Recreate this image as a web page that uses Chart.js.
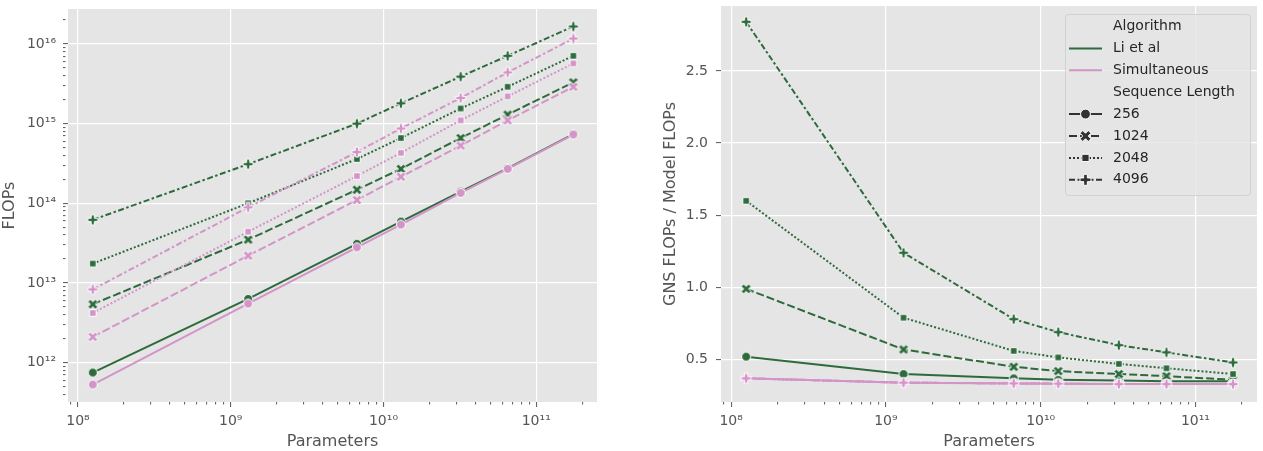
<!DOCTYPE html>
<html>
<head>
<meta charset="utf-8">
<script src="https://cdn.jsdelivr.net/npm/chart.js@4.4.1/dist/chart.umd.min.js"></script>
<style>
  html, body { margin:0; padding:0; background:#fff; overflow:hidden; }
  #wrapL { position:absolute; left:0; top:0; }
  #wrapR { position:absolute; left:625px; top:0; }
</style>
</head>
<body>
<div id="wrapL"><canvas id="flopsChart" width="625" height="451"></canvas></div>
<div id="wrapR"><canvas id="ratioChart" width="638" height="451"></canvas></div>
<script>
// ─── DATA ───
const params      = [1.25e8, 1.3e9, 6.7e9, 1.3e10, 3.2e10, 6.5e10, 1.75e11];
const algorithms  = ['Li et al', 'Simultaneous'];
const seqLengths  = ['256', '1024', '2048', '4096'];

// total FLOPs (left panel)
const flopsLi256   = [7.5e11, 6.3e12, 3.1e13, 5.9e13, 1.4e14, 2.75e14, 7.4e14];
const flopsLi1024  = [5.4e12, 3.5e13, 1.48e14, 2.7e14, 6.6e14, 1.3e15, 3.3e15];
const flopsLi2048  = [1.75e13, 1.0e14, 3.6e14, 6.6e14, 1.55e15, 2.9e15, 7.1e15];
const flopsLi4096  = [6.2e13, 3.1e14, 1.0e15, 1.8e15, 3.9e15, 7.1e15, 1.66e16];
const flopsSim256  = [5.3e11, 5.5e12, 2.8e13, 5.4e13, 1.35e14, 2.7e14, 7.3e14];
const flopsSim1024 = [2.1e12, 2.2e13, 1.1e14, 2.15e14, 5.3e14, 1.1e15, 2.9e15];
const flopsSim2048 = [4.2e12, 4.4e13, 2.2e14, 4.3e14, 1.1e15, 2.2e15, 5.7e15];
const flopsSim4096 = [8.3e12, 8.9e13, 4.4e14, 8.7e14, 2.1e15, 4.4e15, 1.17e16];

// GNS FLOPs / Model FLOPs (right panel)
const ratioLi256   = [0.52, 0.40, 0.37, 0.36, 0.355, 0.35, 0.35];
const ratioLi1024  = [0.99, 0.57, 0.45, 0.42, 0.40, 0.385, 0.36];
const ratioLi2048  = [1.60, 0.79, 0.56, 0.515, 0.47, 0.44, 0.40];
const ratioLi4096  = [2.84, 1.24, 0.78, 0.69, 0.60, 0.55, 0.48];
const ratioSim256  = [0.37, 0.34, 0.335, 0.333, 0.33, 0.33, 0.33];
const ratioSim1024 = [0.37, 0.34, 0.335, 0.333, 0.33, 0.33, 0.33];
const ratioSim2048 = [0.37, 0.34, 0.335, 0.333, 0.33, 0.33, 0.33];
const ratioSim4096 = [0.37, 0.34, 0.335, 0.333, 0.33, 0.33, 0.33];

// tick labels
const xTickValues     = [1e8, 1e9, 1e10, 1e11];
const xTickLabels     = ['10⁸', '10⁹', '10¹⁰', '10¹¹'];
const flopsTickValues = [1e12, 1e13, 1e14, 1e15, 1e16];
const flopsTickLabels = ['10¹²', '10¹³', '10¹⁴', '10¹⁵', '10¹⁶'];
const ratioTickValues = [0.5, 1.0, 1.5, 2.0, 2.5];

// ─── STYLE ───
const GREEN = '#2d6b3c';
const PINK  = '#d394c8';
const FONT  = 'DejaVu Sans';
const DASHES  = { '256': [], '1024': [8, 3], '2048': [2, 2], '4096': [6, 2.5, 2.5, 2.5] };
const MARKERS = { '256': 'o', '1024': 'X', '2048': 's', '4096': 'P' };

function markerPath(ctx, shape, x, y, r) {
  ctx.beginPath();
  if (shape === 'o') {
    ctx.arc(x, y, r * 0.9, 0, Math.PI * 2);
  } else if (shape === 's') {
    const h = r * 0.66;
    ctx.rect(x - h, y - h, 2 * h, 2 * h);
  } else {
    const pts = shape === 'X'
      ? [[-1,-2],[0,-1],[1,-2],[2,-1],[1,0],[2,1],[1,2],[0,1],[-1,2],[-2,1],[-1,0],[-2,-1]].map(p => [p[0]/2, p[1]/2])
      : [[-1,-3],[1,-3],[1,-1],[3,-1],[3,1],[1,1],[1,3],[-1,3],[-1,1],[-3,1],[-3,-1],[-1,-1]].map(p => [p[0]/3, p[1]/3]);
    pts.forEach((p, i) => i ? ctx.lineTo(x + p[0]*r, y + p[1]*r) : ctx.moveTo(x + p[0]*r, y + p[1]*r));
  }
  ctx.closePath();
}

function drawMarker(ctx, shape, x, y, r, fill) {
  markerPath(ctx, shape, x, y, r);
  ctx.fillStyle = fill;
  ctx.fill();
  ctx.strokeStyle = '#fff';
  ctx.lineWidth = 1;
  ctx.stroke();
}

function markerCanvas(shape, color) {
  const c = document.createElement('canvas');
  c.width = 14; c.height = 14;
  drawMarker(c.getContext('2d'), shape, 7, 7, 5, color);
  return c;
}

function makeDatasets(series) {
  const out = [];
  algorithms.forEach((alg, a) => seqLengths.forEach((len, s) => {
    const color = a === 0 ? GREEN : PINK;
    out.push({
      label: alg + ' ' + len,
      data: params.map((p, i) => ({ x: p, y: series[a][s][i] })),
      borderColor: color,
      backgroundColor: color,
      borderWidth: 2,
      borderDash: DASHES[len],
      pointStyle: markerCanvas(MARKERS[len], color),
      pointRadius: 4,
      pointHoverRadius: 4,
      tension: 0,
      order: 100 - out.length
    });
  }));
  return out;
}

// log axes: major tick each decade, minor ticks at 2..9
function logTicks(scale) {
  const ticks = [];
  const lo = Math.floor(Math.log10(scale.min)), hi = Math.ceil(Math.log10(scale.max));
  for (let e = lo; e <= hi; e++) {
    for (let m = 1; m <= 9; m++) {
      const v = m * Math.pow(10, e);
      if (v >= scale.min && v <= scale.max) ticks.push({ value: v, major: m === 1 });
    }
  }
  scale.ticks = ticks;
}

function labelFrom(values, labels) {
  return (v, i, ticks) => {
    if (!ticks[i].major) return '';
    const k = values.findIndex(t => Math.abs(Math.log10(t) - Math.log10(v)) < 1e-6);
    return k >= 0 ? labels[k] : '';
  };
}

const gridOpts = {
  color: c => (c.tick && c.tick.major) ? '#ffffff' : 'rgba(0,0,0,0)',
  lineWidth: 1.2,
  tickColor: '#555',
  tickLength: 5,
  tickWidth: 1,
  tickBorderDash: c => (c.tick && c.tick.major) ? [] : [2.5, 20]
};

const tickFont  = { family: FONT, size: 14 };
const titleFont = { family: FONT, size: 16 };

// keep the plot area where the layout puts it (no extra room for edge labels)
function fitY(width) {
  return s => { s.width = width; s.paddingTop = 0; s.paddingBottom = 0; };
}
function fitX(s) { s.height = 49; s.paddingLeft = 0; s.paddingRight = 0; }

function xAxis() {
  return {
    type: 'logarithmic',
    min: 8.6e7, max: 2.5e11,
    border: { display: false },
    grid: gridOpts,
    afterBuildTicks: logTicks,
    afterFit: fitX,
    ticks: { autoSkip: false, maxRotation: 0, padding: 6, color: '#555', font: tickFont,
             callback: labelFrom(xTickValues, xTickLabels) },
    title: { display: true, text: 'Parameters', color: '#555', font: titleFont, padding: { top: 0, bottom: 0 } }
  };
}

const plotBg = {
  id: 'plotBg',
  beforeDraw(chart) {
    const { ctx, chartArea: a } = chart;
    ctx.save();
    ctx.fillStyle = '#e5e5e5';
    ctx.fillRect(a.left, a.top, a.width, a.height);
    ctx.restore();
  }
};

const styleLegend = {
  id: 'styleLegend',
  afterDraw(chart) {
    const { ctx, chartArea: a } = chart;
    const w = 185, h = 181, x0 = a.right - 7 - w, y0 = a.top + 8;
    ctx.save();
    ctx.beginPath();
    ctx.roundRect(x0 + 0.5, y0 + 0.5, w, h, 3);
    ctx.fillStyle = 'rgba(229,229,229,0.8)';
    ctx.fill();
    ctx.strokeStyle = 'rgba(204,204,204,0.8)';
    ctx.lineWidth = 1;
    ctx.stroke();

    const rows = [
      { text: 'Algorithm' },
      { text: algorithms[0], color: GREEN, dash: [] },
      { text: algorithms[1], color: PINK, dash: [] },
      { text: 'Sequence Length' },
      ...seqLengths.map(l => ({ text: l, color: '#333', dash: DASHES[l], marker: MARKERS[l] }))
    ];
    ctx.font = '14px "' + FONT + '"';
    ctx.textBaseline = 'middle';
    rows.forEach((r, i) => {
      const y = y0 + 12.5 + i * 21.9;
      if (r.color) {
        ctx.beginPath();
        ctx.setLineDash(r.dash);
        ctx.strokeStyle = r.color;
        ctx.lineWidth = 2;
        ctx.moveTo(x0 + 4, y);
        ctx.lineTo(x0 + 37, y);
        ctx.stroke();
        ctx.setLineDash([]);
        if (r.marker) drawMarker(ctx, r.marker, x0 + 20.5, y, 5.5, r.color);
      }
      ctx.fillStyle = '#262626';
      ctx.fillText(r.text, x0 + 48, y);
    });
    ctx.restore();
  }
};

// ─── LEFT: FLOPs ───
new Chart(document.getElementById('flopsChart'), {
  type: 'line',
  data: { datasets: makeDatasets([
    [flopsLi256, flopsLi1024, flopsLi2048, flopsLi4096],
    [flopsSim256, flopsSim1024, flopsSim2048, flopsSim4096]
  ]) },
  options: {
    responsive: false,
    animation: false,
    events: [],
    layout: { padding: { top: 9, right: 28, left: 0, bottom: 0 } },
    plugins: { legend: { display: false }, tooltip: { enabled: false } },
    scales: {
      x: xAxis(),
      y: {
        type: 'logarithmic',
        min: 3.2e11, max: 2.75e16,
        border: { display: false },
        grid: gridOpts,
        afterBuildTicks: logTicks,
        afterFit: fitY(68),
        ticks: { autoSkip: false, padding: 7, color: '#555', font: tickFont,
                 callback: labelFrom(flopsTickValues, flopsTickLabels) },
        title: { display: true, text: 'FLOPs', color: '#555', font: titleFont, padding: { top: 0, bottom: 0 } }
      }
    }
  },
  plugins: [plotBg]
});

// ─── RIGHT: ratio ───
new Chart(document.getElementById('ratioChart'), {
  type: 'line',
  data: { datasets: makeDatasets([
    [ratioLi256, ratioLi1024, ratioLi2048, ratioLi4096],
    [ratioSim256, ratioSim1024, ratioSim2048, ratioSim4096]
  ]) },
  options: {
    responsive: false,
    animation: false,
    events: [],
    layout: { padding: { top: 1, right: 5, left: 0, bottom: 0 } },
    plugins: { legend: { display: false }, tooltip: { enabled: false } },
    scales: {
      x: xAxis(),
      y: {
        type: 'linear',
        min: 0.206, max: 2.95,
        border: { display: false },
        grid: { color: '#ffffff', lineWidth: 1.2, tickColor: '#555', tickLength: 5, tickWidth: 1 },
        afterBuildTicks: s => { s.ticks = ratioTickValues.map(v => ({ value: v })); },
        afterFit: fitY(96),
        ticks: { autoSkip: false, padding: 8, color: '#555', font: tickFont,
                 callback: v => v.toFixed(1) },
        title: { display: true, text: 'GNS FLOPs / Model FLOPs', color: '#555', font: titleFont,
                 padding: { top: 36, bottom: 0 } }
      }
    }
  },
  plugins: [plotBg, styleLegend]
});
</script>
</body>
</html>
